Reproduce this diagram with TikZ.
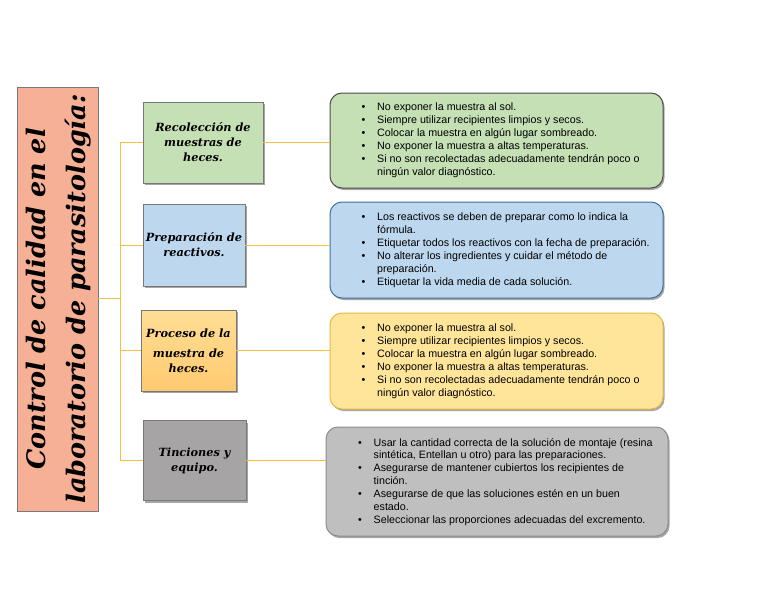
\documentclass[tikz,border=0pt]{standalone}
\usepackage{fontspec}
\usetikzlibrary{shadows}
\newfontfamily\bulfont{Liberation Sans}
\newfontfamily\boxfont{DejaVu Serif}
\definecolor{linkc}{RGB}{240,192,70}
\definecolor{titlefill}{RGB}{245,176,150}
\definecolor{greenf}{RGB}{197,224,180}
\definecolor{bluef}{RGB}{189,215,238}
\definecolor{orangetop}{RGB}{255,222,150}
\definecolor{orangebot}{RGB}{255,202,112}
\definecolor{yellowf}{RGB}{255,229,153}
\definecolor{grayf}{RGB}{166,164,165}
\definecolor{lgrayf}{RGB}{191,191,191}
\definecolor{catborder}{RGB}{120,120,120}
\definecolor{blueb}{RGB}{65,113,156}
\definecolor{yellowb}{RGB}{230,185,70}
\newcommand\blt{\makebox[15.5pt][l]{\textbullet}}
\newcommand\cnt{\hspace*{15.5pt}}
\begin{document}
\begin{tikzpicture}[x=1pt,y=-1pt,
  link/.style={draw=linkc,line width=0.9pt},
  shad/.style={drop shadow={shadow xshift=1.5pt,shadow yshift=-2pt,fill=black,opacity=0.35}},
  catbox/.style={draw=catborder,line width=0.8pt,inner sep=0pt,align=center,shad,
    font=\boxfont\bfseries\itshape\fontsize{11.3}{15}\selectfont},
  listbox/.style={rounded corners=12pt,line width=1pt,inner sep=0pt,shad},
  listtext/.style={anchor=north west,inner sep=0pt,align=left,
    font=\bulfont\fontsize{10.7}{12.9}\selectfont}]
\useasboundingbox[fill=white] (0,0) rectangle (768,594);

% title
\node[draw=catborder,line width=0.8pt,fill=titlefill,minimum width=81pt,minimum height=424pt,inner sep=0pt] (title) at (57.5,299) {};
\node[rotate=90,align=center,inner sep=0pt,font=\boxfont\bfseries\itshape\fontsize{25.5}{40}\selectfont] (titletext) at (58.5,299)
  {Control de calidad en el\\laboratorio de parasitología:};

% category boxes
\node[catbox,fill=greenf,minimum width=120pt,minimum height=81pt] (c1) at (203,142.5)
  {Recolección de\\muestras de\\heces.};
\node[catbox,fill=bluef,minimum width=102pt,minimum height=82pt] (c2) at (194,245)
  {Preparación de\\reactivos.};
\node[catbox,top color=orangetop,bottom color=orangebot,minimum width=95pt,minimum height=81pt] (c3) at (188.5,350.5)
  {Proceso de la\\[5pt]muestra de\\heces.};
\node[catbox,fill=grayf,minimum width=103pt,minimum height=80pt] (c4) at (194.5,460.5)
  {Tinciones y\\equipo.};

% list boxes
\node[listbox,draw=black!70,fill=greenf,minimum width=333pt,minimum height=95pt] (l1) at (496.5,140.5) {};
\node[listbox,draw=blueb,fill=bluef,minimum width=333pt,minimum height=96pt] (l2) at (496.5,250) {};
\node[listbox,draw=yellowb,fill=yellowf,minimum width=333pt,minimum height=96pt] (l3) at (496.5,361) {};
\node[listbox,draw=black!45,fill=lgrayf,minimum width=342pt,minimum height=109pt] (l4) at (497,481.5) {};

\node[listtext] (t1) at (361.5,103) {\blt No exponer la muestra al sol.\\
\blt Siempre utilizar recipientes limpios y secos.\\
\blt Colocar la muestra en algún lugar sombreado.\\
\blt No exponer la muestra a altas temperaturas.\\
\blt Si no son recolectadas adecuadamente tendrán poco o\\
\cnt ningún valor diagnóstico.};
\node[listtext] (t2) at (361.5,213) {\blt Los reactivos se deben de preparar como lo indica la\\
\cnt fórmula.\\
\blt Etiquetar todos los reactivos con la fecha de preparación.\\
\blt No alterar los ingredientes y cuidar el método de\\
\cnt preparación.\\
\blt Etiquetar la vida media de cada solución.};
\node[listtext] (t3) at (361.5,324) {\blt No exponer la muestra al sol.\\
\blt Siempre utilizar recipientes limpios y secos.\\
\blt Colocar la muestra en algún lugar sombreado.\\
\blt No exponer la muestra a altas temperaturas.\\
\blt Si no son recolectadas adecuadamente tendrán poco o\\
\cnt ningún valor diagnóstico.};
\node[listtext] (t4) at (358,438) {\blt Usar la cantidad correcta de la solución de montaje (resina\\
\cnt sintética, Entellan u otro) para las preparaciones.\\
\blt Asegurarse de mantener cubiertos los recipientes de\\
\cnt tinción.\\
\blt Asegurarse de que las soluciones estén en un buen\\
\cnt estado.\\
\blt Seleccionar las proporciones adecuadas del excremento.};

% connectors
\coordinate (trunk) at (120,298);
\draw[link] (title.east |- trunk) -- (trunk);
\draw[link] (trunk |- c1.west) -- (trunk |- c4.west);
\foreach \c in {c1,c2,c3,c4} \draw[link] (trunk |- \c.west) -- (\c.west);
\draw[link] (c1.east) -- (c1.east -| l1.west);
\draw[link] (c2.east) -- (c2.east -| l2.west);
\draw[link] (c3.east) -- (c3.east -| l3.west);
\draw[link] (c4.east) -- (c4.east -| l4.west);
\end{tikzpicture}
\end{document}
